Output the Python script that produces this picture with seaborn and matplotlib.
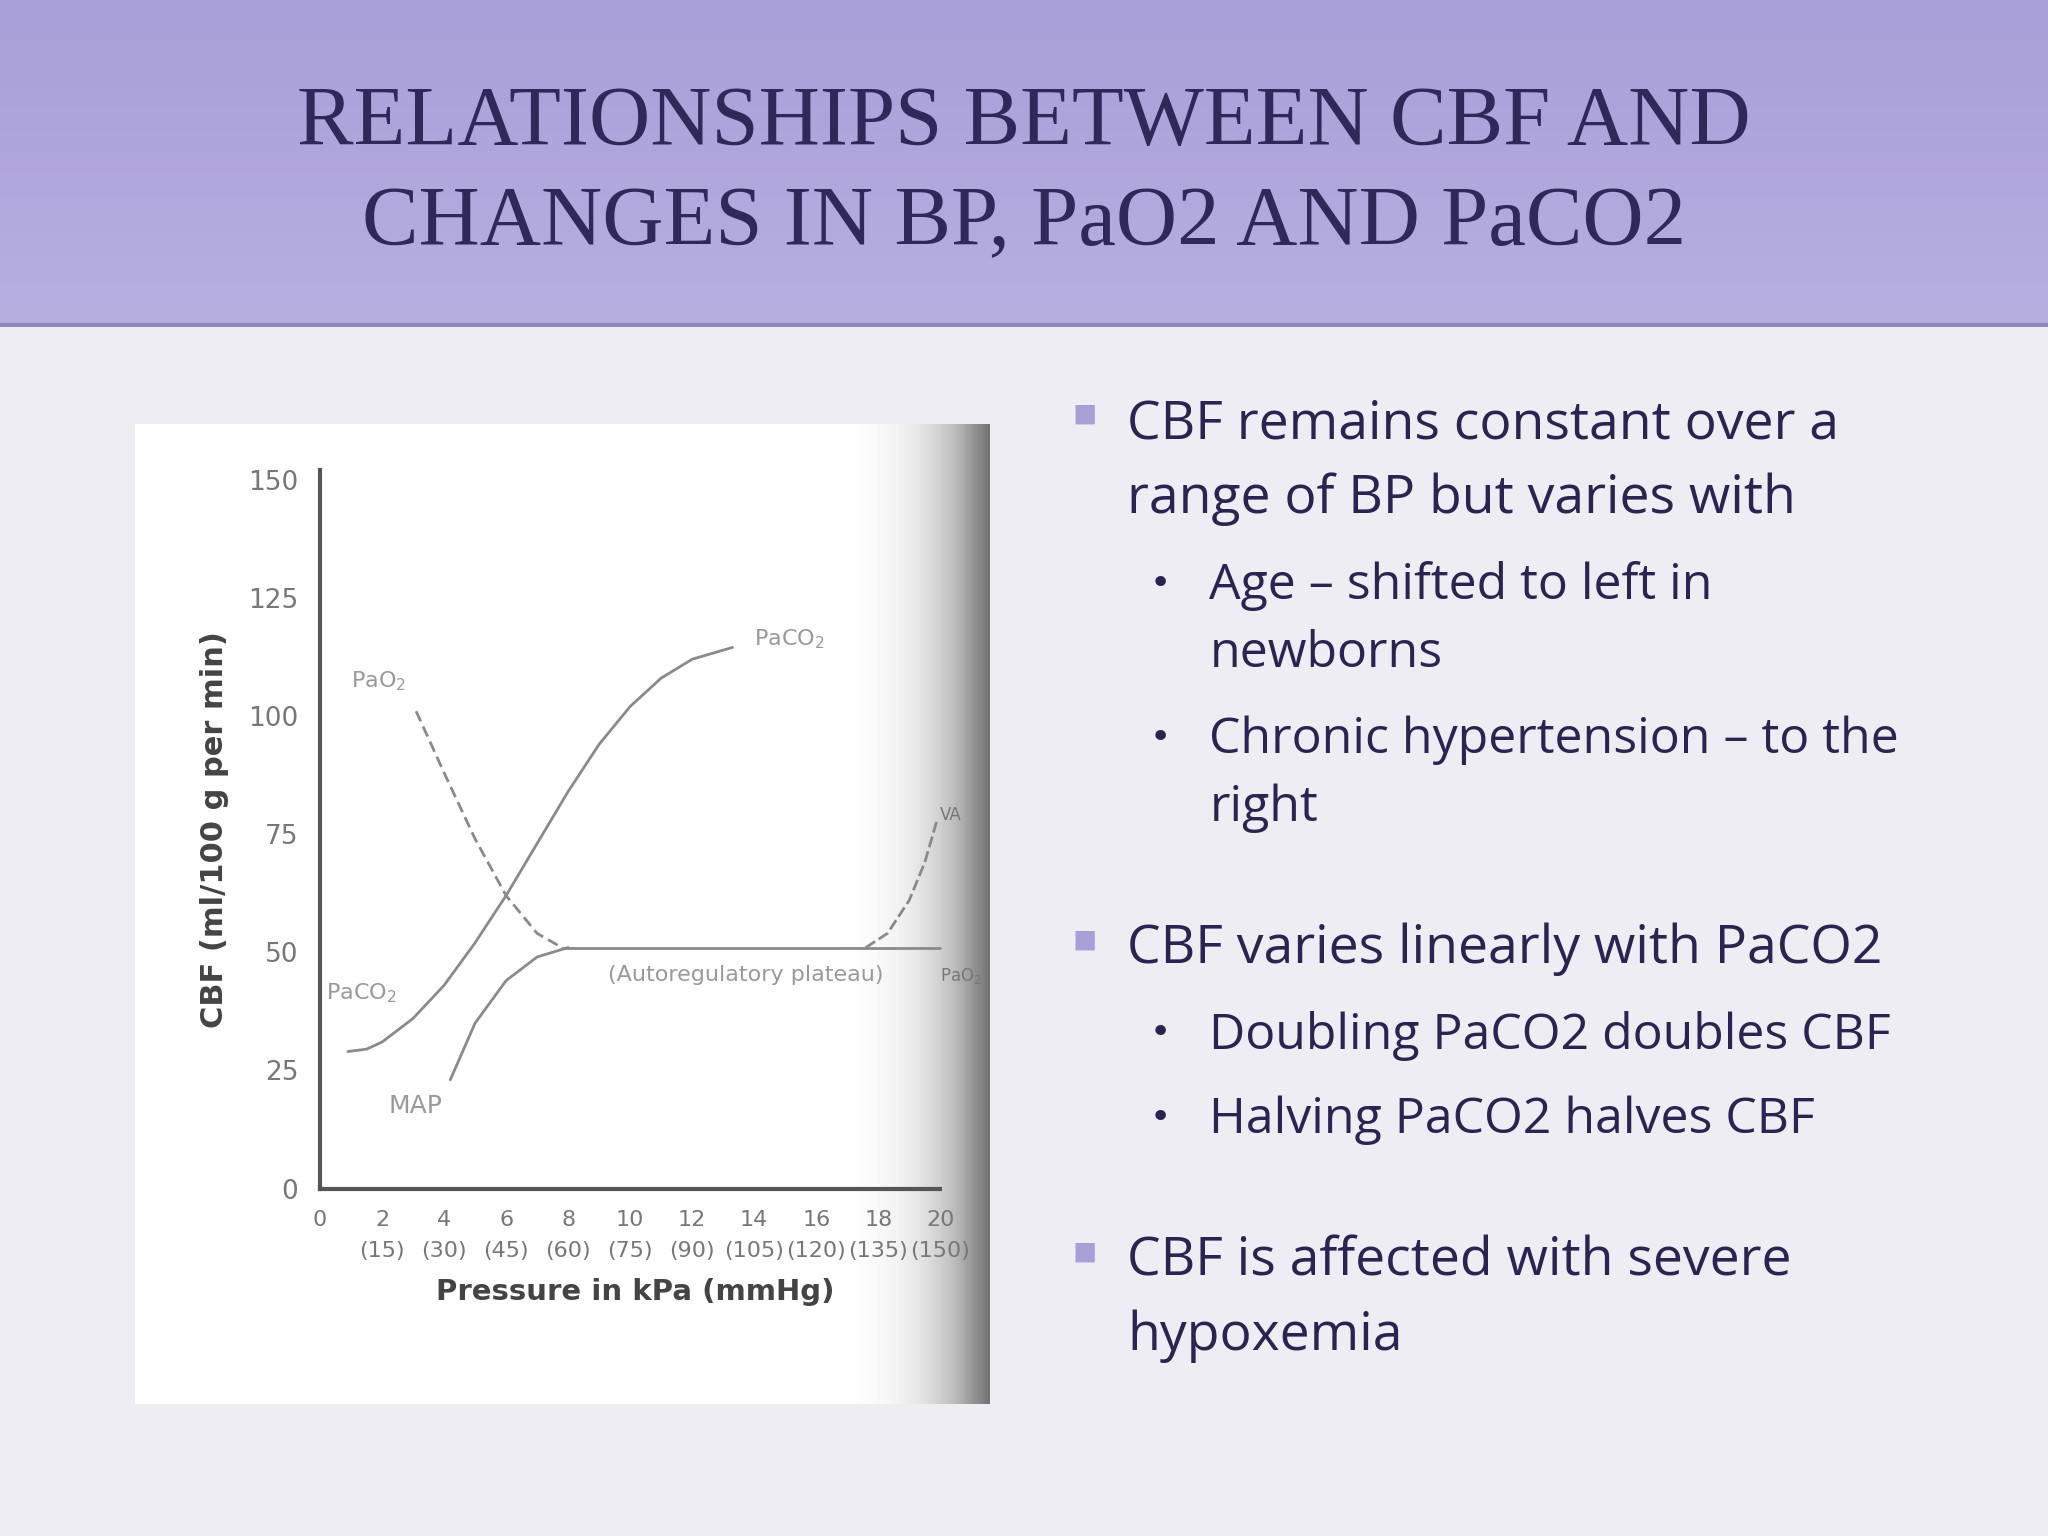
import numpy as np
import matplotlib
matplotlib.use("Agg")
import matplotlib.pyplot as plt
import seaborn as sns
import pandas as pd

sns.set_theme(style="white")
plt.rcParams['font.family'] = ['DejaVu Sans']

# ---- data ----
paco2_x = [0.9, 1.5, 2, 3, 4, 5, 6, 7, 8, 9, 10, 11, 12, 13.3]
paco2_y = [29, 29.5, 31, 36, 43, 52, 62, 73, 84, 94, 102, 108, 112, 114.5]
pao2_x = [3.1, 4, 5, 6, 7, 7.8]
pao2_y = [101, 88, 74, 62, 54, 51]
map_x = [4.2, 5, 6, 7, 8]
map_y = [23, 35, 44, 49, 51]
plateau_x = [7.8, 20]
plateau_y = [51, 51]
va_x = [17.6, 18.3, 19, 19.5, 19.9]
va_y = [51, 54, 61, 69, 78]
xticks = [0, 2, 4, 6, 8, 10, 12, 14, 16, 18, 20]
xticklabels = ["0", "2\n(15)", "4\n(30)", "6\n(45)", "8\n(60)", "10\n(75)", "12\n(90)",
               "14\n(105)", "16\n(120)", "18\n(135)", "20\n(150)"]
yticks = [0, 25, 50, 75, 100, 125, 150]

fig = plt.figure(figsize=(20.48, 15.36), dpi=100)
fig.patch.set_facecolor("#eeedf3")

# header band
hdr = fig.add_axes([0, 1 - 250/1176, 1, 250/1176])
grad = np.linspace(0, 1, 100).reshape(-1, 1)
hdr.imshow(grad, aspect="auto", extent=[0, 1, 0, 1],
           cmap=matplotlib.colors.LinearSegmentedColormap.from_list("h", ["#a99fd8", "#b7aee0"]))
hdr.axhline(0.005, color="#8f86b8", lw=3)
hdr.set_axis_off()
fig.text(0.5, 1 - 95/1176, "RELATIONSHIPS BETWEEN CBF AND", ha="center", va="center",
         fontsize=61, color="#2f2858", family="Liberation Serif")
fig.text(0.5, 1 - 172/1176, "CHANGES IN BP, PaO2 AND PaCO2", ha="center", va="center",
         fontsize=61, color="#2f2858", family="Liberation Serif")

# white picture box with right shadow
box = fig.add_axes([103/1568, 1 - 1075/1176, (757-103)/1568, (1075-325)/1176])
g = np.ones((10, 400))
xs = np.linspace(0, 1, 400)
g[:] = np.clip((xs - 0.82) / 0.18, 0, 1) ** 2
box.imshow(g, aspect="auto", extent=[0, 1, 0, 1], cmap="Greys", vmin=0, vmax=1.6)
box.set_axis_off()

ax = fig.add_axes([245/1568, 1 - 910/1176, (727-245)/1568, (910-360)/1176])
ax.patch.set_alpha(0)
gray = "#8a8a8a"
sns.lineplot(x=paco2_x, y=paco2_y, ax=ax, color=gray, lw=2)
sns.lineplot(x=pao2_x, y=pao2_y, ax=ax, color=gray, lw=2, linestyle=(0, (4, 2)))
sns.lineplot(x=map_x, y=map_y, ax=ax, color=gray, lw=2)
sns.lineplot(x=plateau_x, y=plateau_y, ax=ax, color=gray, lw=2)
sns.lineplot(x=va_x, y=va_y, ax=ax, color=gray, lw=2, linestyle=(0, (4, 1.5)))
ax.set_xlim(0, 20.3)
ax.set_ylim(0, 152)
for s in ["top", "right"]:
    ax.spines[s].set_visible(False)
for s in ["left", "bottom"]:
    ax.spines[s].set_color("#555555")
    ax.spines[s].set_linewidth(3)
ax.spines["bottom"].set_bounds(0, 20)
ax.set_xticks(xticks)
ax.set_xticklabels(xticklabels, fontsize=16, color="#777777", linespacing=1.7)
ax.set_yticks(yticks)
ax.set_yticklabels([str(v) for v in yticks], fontsize=19, color="#777777")
ax.tick_params(axis="both", direction="out", length=12, width=2.5, color="#555555")
ax.set_xlabel("Pressure in kPa (mmHg)", fontsize=21, fontweight="bold", color="#444444", labelpad=12)
ax.set_ylabel("CBF (ml/100 g per min)", fontsize=22, fontweight="bold", color="#444444", labelpad=14)
lab = dict(color="#999999", fontsize=16)
ax.text(1.0, 106, "PaO$_2$", **lab)
ax.text(14.0, 115, "PaCO$_2$", **lab)
ax.text(0.2, 40, "PaCO$_2$", **lab)
ax.text(2.2, 16, "MAP", fontsize=18, color="#999999")
ax.text(9.3, 44, "(Autoregulatory plateau)", **lab)
ax.text(20.0, 44, "PaO$_2$", color="#777777", fontsize=12)
ax.text(20.0, 78, "VA", color="#777777", fontsize=12)

# right text
tc = "#2b2450"
bc = "#a99fd8"
fs1, fs2 = 38.5, 36
def bullet(y, lines):
    fig.text(820/1568, 1 - (y - 8)/1176, "▪", color=bc, fontsize=28, va="center", ha="left")
    for i, l in enumerate(lines):
        fig.text(863/1568, 1 - (y + i*57)/1176, l, color=tc, fontsize=fs1, va="center",
                 family="Open Sans")
def sub(y, lines):
    fig.text(880/1568, 1 - (y - 2)/1176, "•", color=tc, fontsize=26, va="center")
    for i, l in enumerate(lines):
        fig.text(926/1568, 1 - (y + i*52)/1176, l, color=tc, fontsize=fs2, va="center",
                 family="Open Sans")
bullet(325, ["CBF remains constant over a", "range of BP but varies with"])
sub(449, ["Age \u2013 shifted to left in", "newborns"])
sub(567, ["Chronic hypertension \u2013 to the", "right"])
bullet(727, ["CBF varies linearly with PaCO2"])
sub(793, ["Doubling PaCO2 doubles CBF"])
sub(858, ["Halving PaCO2 halves CBF"])
bullet(966, ["CBF is affected with severe", "hypoxemia"])

fig.savefig("out.png", dpi=100)
